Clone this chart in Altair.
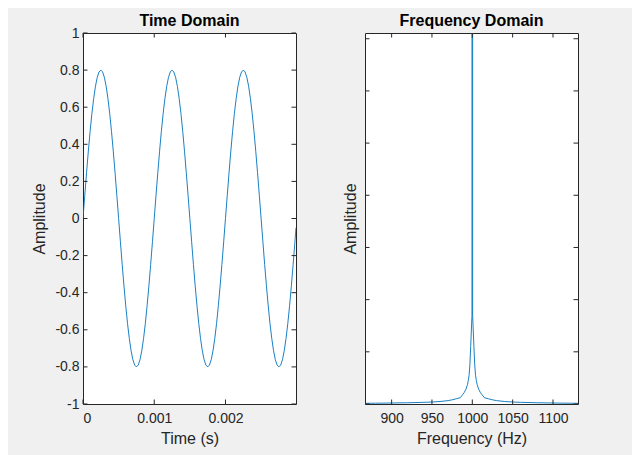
import altair as alt
import pandas as pd

# ---------------- data ----------------
# Time domain: one period (1 ms) sampled every 0.025 ms, repeated 3 times
cycle_amp = [0.000, 0.125, 0.247, 0.363, 0.470, 0.566, 0.647, 0.713, 0.761, 0.790,
             0.800, 0.790, 0.761, 0.713, 0.647, 0.566, 0.470, 0.363, 0.247, 0.125,
             0.000, -0.125, -0.247, -0.363, -0.470, -0.566, -0.647, -0.713, -0.761, -0.790,
             -0.800, -0.790, -0.761, -0.713, -0.647, -0.566, -0.470, -0.363, -0.247, -0.125]
time_step = 0.000025
time_end = 0.00299
end_amp = -0.050

time_xticks = [0, 0.001, 0.002]
time_yticks = [-1, -0.8, -0.6, -0.4, -0.2, 0, 0.2, 0.4, 0.6, 0.8, 1]

# Frequency domain spectrum (peak at 1000 Hz runs far off the top)
freq_hz = [867, 880, 900, 920, 940, 950, 960, 970, 975, 980, 985, 988, 990, 992,
           994, 995, 996, 997, 998, 999.6, 1000, 1000.4, 1002, 1003, 1004, 1005, 1006,
           1008, 1010, 1012, 1015, 1020, 1025, 1030, 1040, 1050, 1060, 1080, 1100,
           1120, 1131]
freq_amp = [0.013, 0.015, 0.019, 0.024, 0.032, 0.038, 0.048, 0.065, 0.080, 0.100,
            0.120, 0.180, 0.220, 0.280, 0.370, 0.450, 0.550, 0.750, 1.100, 1.700,
            400.0, 1.700, 1.100, 0.750, 0.550, 0.450, 0.370, 0.280, 0.220, 0.180,
            0.120, 0.100, 0.080, 0.065, 0.048, 0.038, 0.032, 0.024, 0.019, 0.015,
            0.013]
freq_xticks = [900, 950, 1000, 1050, 1100]
freq_yticks = [0, 1, 2, 3, 4, 5, 6, 7]

titles = ["Time Domain", "Frequency Domain"]

# ---------------- tables ----------------
amps = cycle_amp * 3 + [end_amp]
times = [k * time_step for k in range(len(cycle_amp) * 3)] + [time_end]
time_df = pd.DataFrame({"t": times, "a": amps})
freq_df = pd.DataFrame({"f": freq_hz, "a": freq_amp})

W, H = 213, 371
TL = 4.5
BLUE = "#0072BD"
FRAME = "#262626"
FONT = "Liberation Sans"


def panel(df, xf, yf, xdom, ydom, xticks, yticks, xtitle, title, ylabels, xfmt):
    xs = alt.Scale(domain=xdom, nice=False, zero=False)
    ys = alt.Scale(domain=ydom, nice=False, zero=False)
    if ylabels:
        yaxis = alt.Axis(values=yticks, ticks=False, domain=False, grid=False,
                         title="Amplitude", labelPadding=4, titlePadding=7,
                         labelExpr="replace(format(datum.value, '.1~f'), '\u2212', '-')")
    else:
        yaxis = alt.Axis(values=yticks, ticks=False, domain=False, grid=False,
                         labels=False, title="Amplitude", titlePadding=7)
    xaxis = alt.Axis(values=xticks, ticks=False, domain=False, grid=False,
                     title=xtitle, labelPadding=7, titlePadding=5, labelExpr=xfmt)
    line = alt.Chart(df).mark_line(color=BLUE, strokeWidth=0.9, clip=True).encode(
        x=alt.X(f"{xf}:Q", scale=xs, axis=xaxis),
        y=alt.Y(f"{yf}:Q", scale=ys, axis=yaxis),
    )
    ydf = pd.DataFrame({"v": yticks})
    xdf = pd.DataFrame({"v": xticks})
    ly = alt.Chart(ydf).mark_rule(color=FRAME, strokeWidth=1).encode(
        y=alt.Y("v:Q", scale=ys, axis=yaxis), x=alt.value(0), x2=alt.value(TL))
    ry = alt.Chart(ydf).mark_rule(color=FRAME, strokeWidth=1).encode(
        y=alt.Y("v:Q", scale=ys, axis=yaxis), x=alt.value(W - TL), x2=alt.value(W))
    bx = alt.Chart(xdf).mark_rule(color=FRAME, strokeWidth=1).encode(
        x=alt.X("v:Q", scale=xs, axis=xaxis), y=alt.value(H - TL), y2=alt.value(H))
    tx = alt.Chart(xdf).mark_rule(color=FRAME, strokeWidth=1).encode(
        x=alt.X("v:Q", scale=xs, axis=xaxis), y=alt.value(0), y2=alt.value(TL))
    ttl = alt.Chart(pd.DataFrame({"title": [title]})).mark_text(
        font=FONT, fontSize=16, fontWeight="bold", color="black",
        align="center", baseline="alphabetic", clip=False,
    ).encode(text="title:N", x=alt.value(W / 2), y=alt.value(-7))
    return alt.layer(line, ly, ry, bx, tx, ttl).properties(width=W, height=H)


left = panel(time_df, "t", "a", [0, time_end], [-1, 1], time_xticks, time_yticks,
             "Time (s)", titles[0], True, "format(datum.value, '~g')")
right = panel(freq_df, "f", "a", [867, 1131], [0, 7.11], freq_xticks, freq_yticks,
              "Frequency (Hz)", titles[1], False, "format(datum.value, 'd')")

chart = alt.hconcat(left, right, spacing=69, bounds="flush").properties(
    background="#F0F0F0",
    autosize=alt.AutoSizeParams(type="none"),
    padding={"left": 75, "top": 25, "right": 549, "bottom": 414},
).configure_view(
    fill="white", stroke=FRAME, strokeWidth=1
).configure_axis(
    labelFont=FONT, titleFont=FONT, labelFontSize=14, titleFontSize=16,
    labelColor=FRAME, titleColor=FRAME, titleFontWeight="normal",
)

chart.save("out.html", embed_options={"renderer": "svg", "actions": False})
